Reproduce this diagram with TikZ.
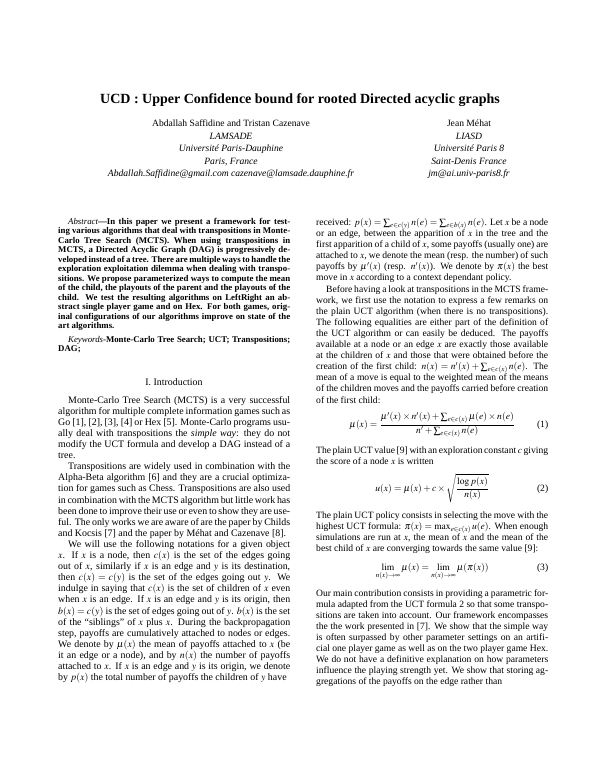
\documentclass[tikz,border=0pt]{standalone}
\usepackage{amsmath}
\usepackage{mathptmx}
\usepackage{fontspec}
\setmainfont{Liberation Serif}
\begin{document}
\begin{tikzpicture}[x=1pt,y=1pt,
  col/.style={anchor=north west,inner sep=0pt,text width=232pt,align=justify,font=\fontsize{9.9}{11.1}\selectfont},
  rcol/.style={anchor=north west,inner sep=0pt,text width=232pt,align=justify,font=\fontsize{9.6}{11.1}\selectfont},
  abscol/.style={anchor=north west,inner sep=0pt,text width=232pt,align=justify,font=\fontsize{8.8}{9.5}\selectfont},
  auth/.style={anchor=north,inner sep=0pt,align=center,font=\fontsize{9.6}{12.4}\selectfont}]
\useasboundingbox[fill=white] (0,0) rectangle (600,-776);
\node[anchor=north,inner sep=0pt,font=\bfseries\fontsize{14}{16}\selectfont] (title) at (300,-93) {UCD : Upper Confidence bound for rooted Directed acyclic graphs};
\node[auth] (a1) at (231,-120) {Abdallah Saffidine and Tristan Cazenave\\ \textit{LAMSADE}\\ \textit{Université Paris-Dauphine}\\ \textit{Paris, France}\\ \textit{Abdallah.Saffidine@gmail.com cazenave@lamsade.dauphine.fr}};
\node[auth] (a2) at (469,-120) {Jean Méhat\\ \textit{LIASD}\\ \textit{Université Paris 8}\\ \textit{Saint-Denis France}\\ \textit{jm@ai.univ-paris8.fr}};
\node[abscol] (abs) at (58,-218) {\bfseries\parindent=10pt\indent\textmd{\textit{Abstract}}—In this paper we present a framework for testing various algorithms that deal with transpositions in Monte-Carlo Tree Search (MCTS). When using transpositions in MCTS, a Directed Acyclic Graph (DAG) is progressively developed instead of a tree. There are multiple ways to handle the exploration exploitation dilemma when dealing with transpositions. We propose parameterized ways to compute the mean of the child, the playouts of the parent and the playouts of the child. We test the resulting algorithms on LeftRight an abstract single player game and on Hex. For both games, original configurations of our algorithms improve on state of the art algorithms.};
\node[abscol] (kw) at (58,-336) {\bfseries\parindent=10pt\indent\textmd{\textit{Keywords}}-Monte-Carlo Tree Search; UCT; Transpositions; DAG;};
\node[anchor=north,inner sep=0pt,font=\fontsize{9.9}{11}\selectfont] (sec) at (174,-378) {I. I\textsc{ntroduction}};
\node[col] (intro) at (58,-396) {\parindent=10pt\indent Monte-Carlo Tree Search (MCTS) is a very successful algorithm for multiple complete information games such as Go [1], [2], [3], [4] or Hex [5]. Monte-Carlo programs usually deal with transpositions the \textit{simple way}: they do not modify the UCT formula and develop a DAG instead of a tree.\par
Transpositions are widely used in combination with the Alpha-Beta algorithm [6] and they are a crucial optimization for games such as Chess. Transpositions are also used in combination with the MCTS algorithm but little work has been done to improve their use or even to show they are useful. The only works we are aware of are the paper by Childs and Kocsis [7] and the paper by Méhat and Cazenave [8].\par
We will use the following notations for a given object $x$. If $x$ is a node, then $c(x)$ is the set of the edges going out of $x$, similarly if $x$ is an edge and $y$ is its destination, then $c(x)=c(y)$ is the set of the edges going out $y$. We indulge in saying that $c(x)$ is the set of children of $x$ even when $x$ is an edge. If $x$ is an edge and $y$ is its origin, then $b(x)=c(y)$ is the set of edges going out of $y$. $b(x)$ is the set of the ``siblings'' of $x$ plus $x$. During the backpropagation step, payoffs are cumulatively attached to nodes or edges. We denote by $\mu(x)$ the mean of payoffs attached to $x$ (be it an edge or a node), and by $n(x)$ the number of payoffs attached to $x$. If $x$ is an edge and $y$ is its origin, we denote by $p(x)$ the total number of payoffs the children of $y$ have};
\node[rcol] (right) at (316,-218) {\parindent=10pt\abovedisplayskip=8pt\belowdisplayskip=8pt\abovedisplayshortskip=8pt\belowdisplayshortskip=8pt
received: $p(x)=\sum_{e\in c(y)} n(e)=\sum_{e\in b(x)} n(e)$. Let $x$ be a node or an edge, between the apparition of $x$ in the tree and the first apparition of a child of $x$, some payoffs (usually one) are attached to $x$, we denote the mean (resp. the number) of such payoffs by $\mu'(x)$ (resp. $n'(x)$). We denote by $\pi(x)$ the best move in $x$ according to a context dependant policy.\par
Before having a look at transpositions in the MCTS framework, we first use the notation to express a few remarks on the plain UCT algorithm (when there is no transpositions). The following equalities are either part of the definition of the UCT algorithm or can easily be deduced. The payoffs available at a node or an edge $x$ are exactly those available at the children of $x$ and those that were obtained before the creation of the first child: $n(x)=n'(x)+\sum_{e\in c(x)} n(e)$. The mean of a move is equal to the weighted mean of the means of the children moves and the payoffs carried before creation of the first child:
\begin{equation}
\mu(x)=\frac{\mu'(x)\times n'(x)+\sum_{e\in c(x)}\mu(e)\times n(e)}{n'+\sum_{e\in c(x)} n(e)}
\end{equation}
\noindent The plain UCT value [9] with an exploration constant $c$ giving the score of a node $x$ is written
\begin{equation}
u(x)=\mu(x)+c\times\sqrt{\frac{\log p(x)}{n(x)}}
\end{equation}
The plain UCT policy consists in selecting the move with the highest UCT formula: $\pi(x)=\max_{e\in c(x)} u(e)$. When enough simulations are run at $x$, the mean of $x$ and the mean of the best child of $x$ are converging towards the same value [9]:
\begin{equation}
\lim_{n(x)\to\infty}\mu(x)=\lim_{n(x)\to\infty}\mu(\pi(x))
\end{equation}
Our main contribution consists in providing a parametric formula adapted from the UCT formula 2 so that some transpositions are taken into account. Our framework encompasses the the work presented in [7]. We show that the simple way is often surpassed by other parameter settings on an artificial one player game as well as on the two player game Hex. We do not have a definitive explanation on how parameters influence the playing strength yet. We show that storing aggregations of the payoffs on the edge rather than};
\end{tikzpicture}
\end{document}
